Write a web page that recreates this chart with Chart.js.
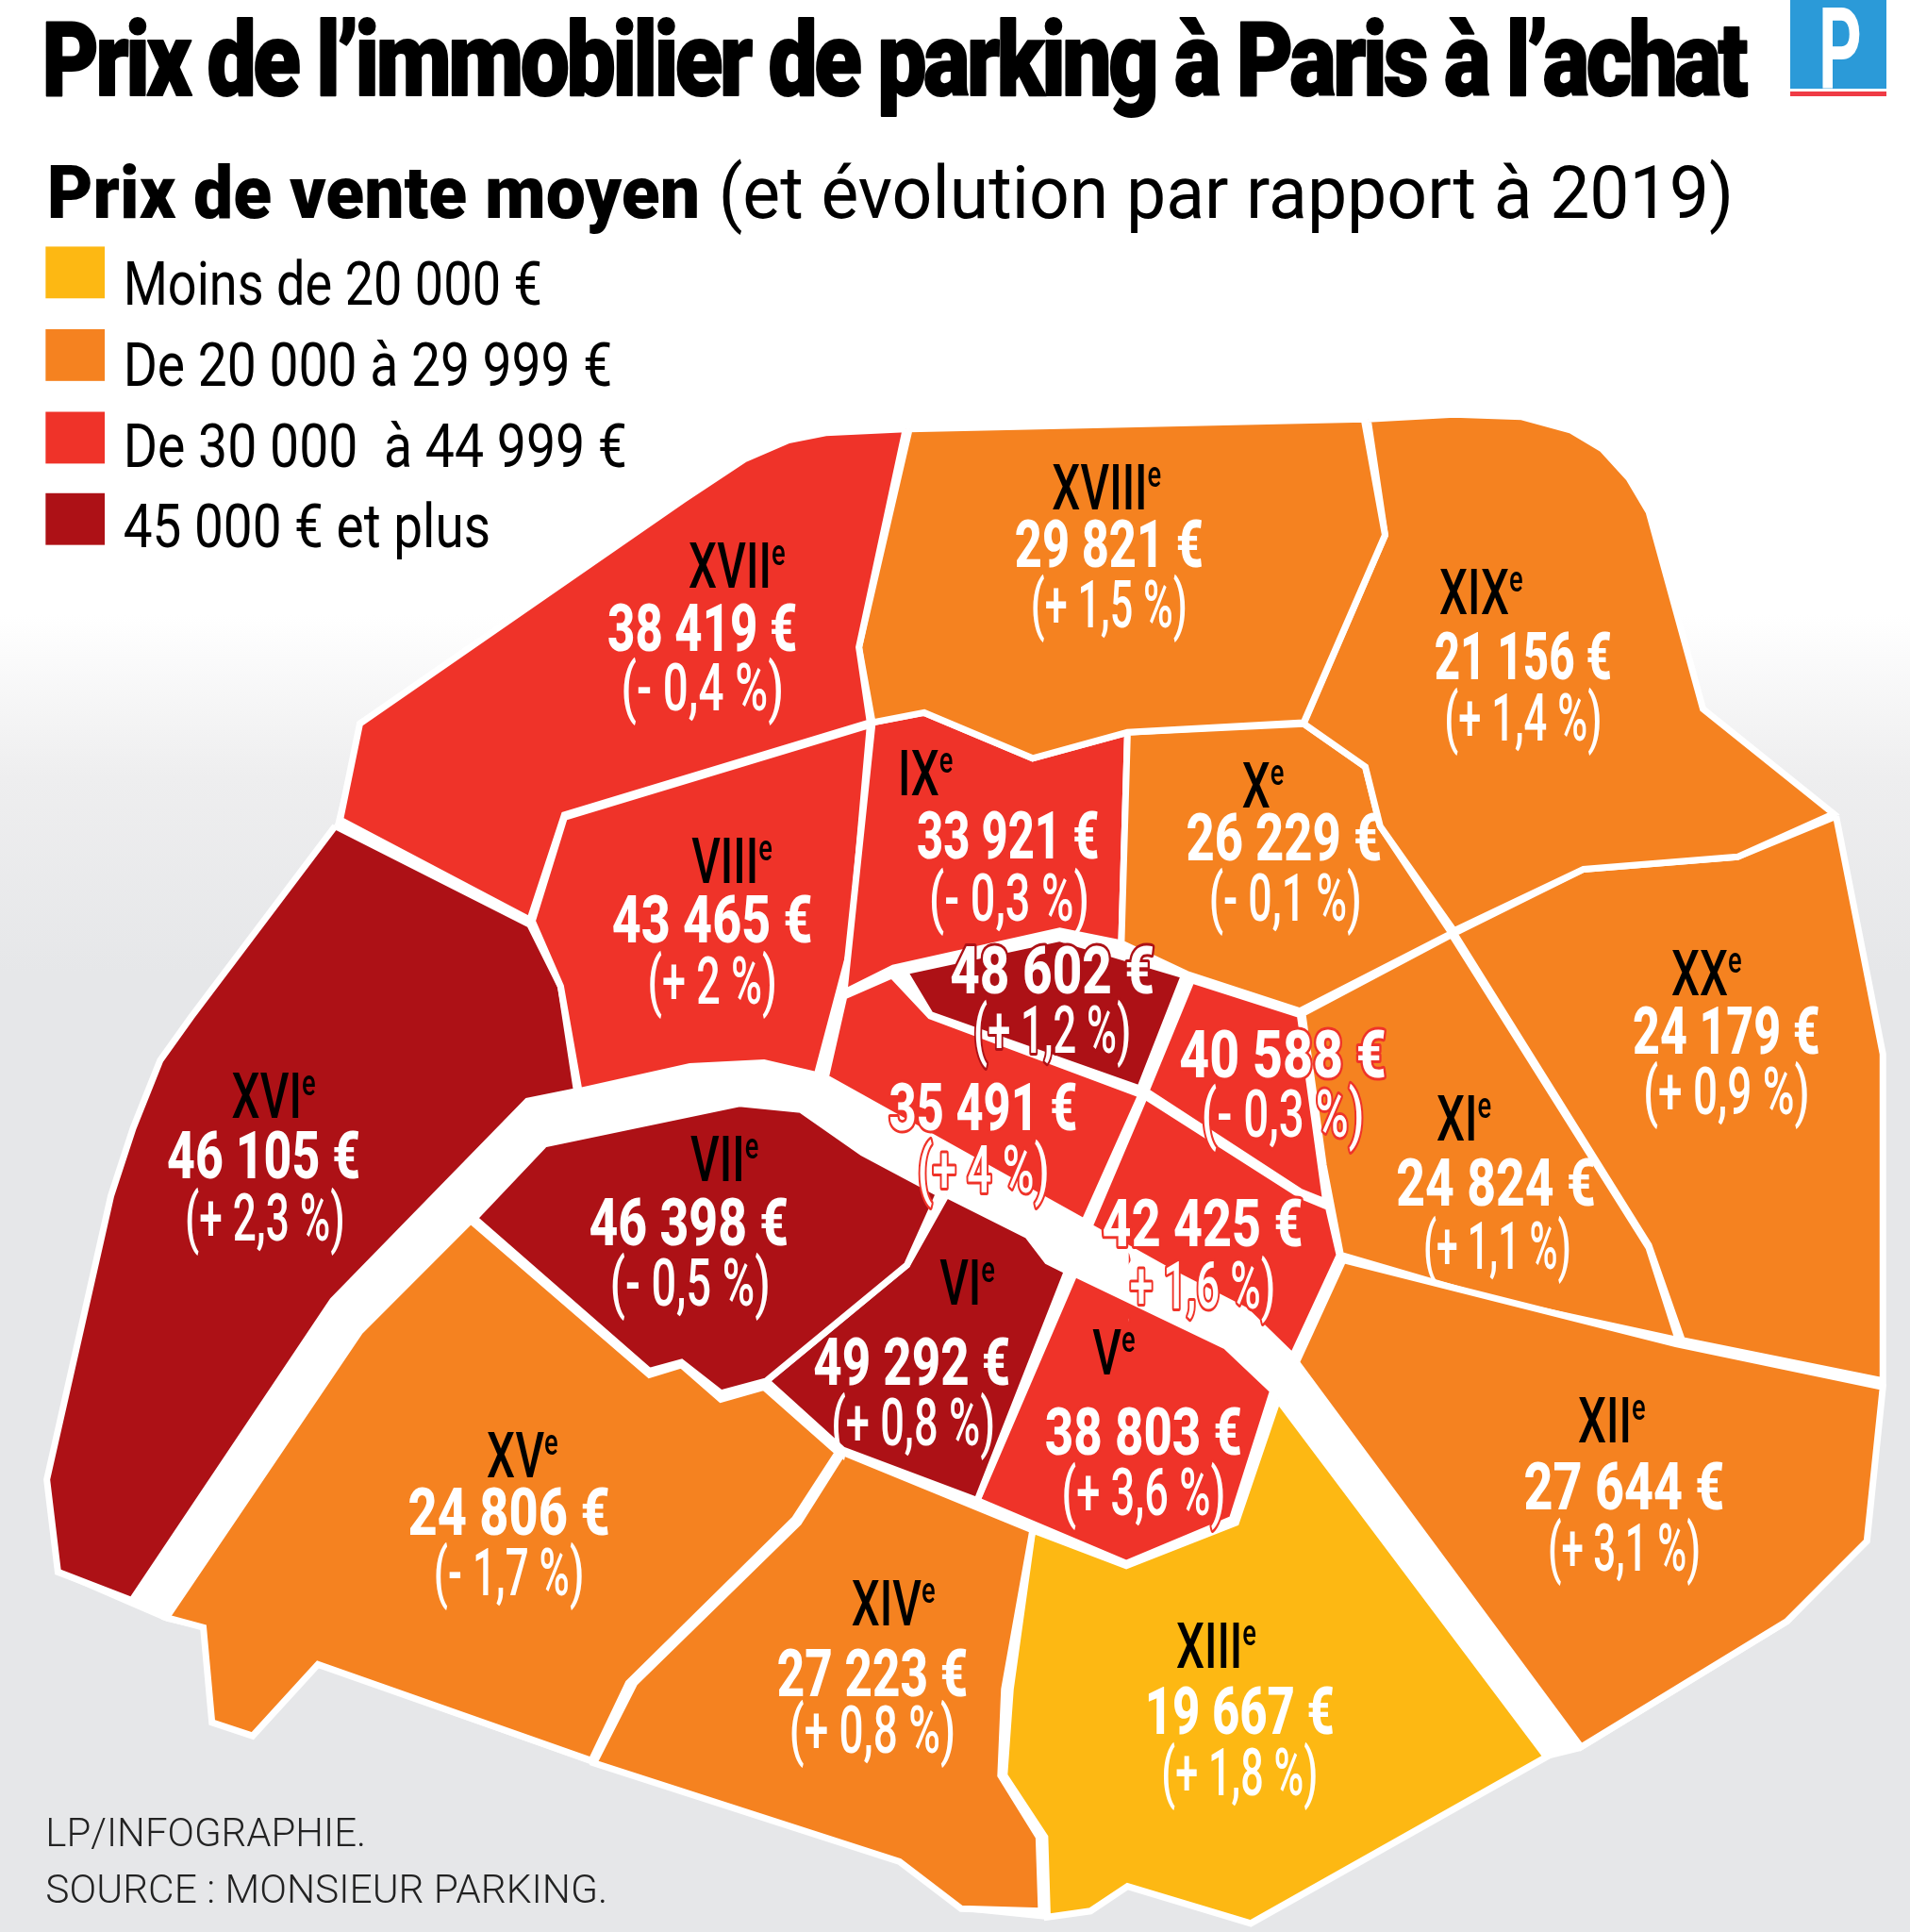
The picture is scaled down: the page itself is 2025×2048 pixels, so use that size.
<!DOCTYPE html>
<html lang="fr"><head><meta charset="utf-8"><title>Prix de l'immobilier de parking à Paris</title>
<style>html,body{margin:0;padding:0;background:#fff}canvas{display:block}</style>
<script src="https://cdn.jsdelivr.net/npm/chart.js@4/dist/chart.umd.min.js"></script></head>
<body><canvas id="c" width="2025" height="2048" style="width:2025px;height:2048px"></canvas>
<script>
const districts = ['XVII','XVIII','XIX','XX','X','IX','VIII','Ier','IIIe','IIe','IVe','XVI','VII','VI','V','XV','XIV','XIII','XII','XI'];
const romans = ['XVII','XVIII','XIX','XX','X','IX','VIII','','','','','XVI','VII','VI','V','XV','XIV','XIII','XII','XI'];
const prices = ['38 419 €','29 821 €','21 156 €','24 179 €','26 229 €','33 921 €','43 465 €','48 602 €','40 588 €','35 491 €','42 425 €','46 105 €','46 398 €','49 292 €','38 803 €','24 806 €','27 223 €','19 667 €','27 644 €','24 824 €'];
const changes = ['(- 0,4 %)','(+ 1,5 %)','(+ 1,4 %)','(+ 0,9 %)','(- 0,1 %)','(- 0,3 %)','(+ 2 %)','(+ 1,2 %)','(- 0,3 %)','(+ 4 %)','(+ 1,6 %)','(+ 2,3 %)','(- 0,5 %)','(+ 0,8 %)','(+ 3,6 %)','(- 1,7 %)','(+ 0,8 %)','(+ 1,8 %)','(+ 3,1 %)','(+ 1,1 %)'];
const classes = [2,1,1,1,1,2,2,3,2,2,2,3,3,3,2,1,1,0,1,1];
const classNames = ['Moins de 20 000 €','De 20 000 à 29 999 €','De 30 000  à 44 999 €','45 000 € et plus'];
const classColors = ['#fdb813','#f58220','#ef3329','#ad1116'];

const parisOutline = [[738,345],[1107,338],[1200,333],[1270,343],[1310,373],[1338,413],[1382,573],[1490,660],[1530,855],[1530,1122],[1517,1250],[1452,1317],[1283,1420],[1255,1427],[1015,1562],[915,1532],[885,1552],[850,1557],[780,1550],[730,1512],[482,1432],[258,1352],[205,1410],[172,1399],[165,1322],[135,1315],[107,1303],[47,1277],[38,1200],[90,970],[130,860],[272,668],[292,585],[555,403],[620,363],[660,350]];
const shapes = [
 [[735,348],[670,351],[640,357],[605,372],[555,405],[292,587],[276,665],[430,746],[458,661],[706,586],[697,525]],
 [[738,348],[1107,340],[1124,434],[1058,586],[915,594],[838,615],[750,578],[708,586],[697,525]],
 [[1110,340],[1180,336],[1235,338],[1275,349],[1300,364],[1322,388],[1338,415],[1382,575],[1488,660],[1410,695],[1285,705],[1180,755],[1120,670],[1108,622],[1058,587],[1124,434]],
 [[1490,662],[1528,855],[1528,1120],[1365,1087],[1338,1010],[1180,757],[1285,705],[1410,695]],
 [[915,594],[1058,587],[1108,622],[1120,670],[1178,757],[1055,820],[963,790],[910,765]],
 [[708,586],[750,578],[838,615],[915,594],[910,765],[860,755],[725,785],[685,805]],
 [[458,663],[706,588],[690,770],[663,872],[620,862],[560,865],[470,885],[455,800],[432,747]],
 [[734,788],[860,761],[961,791],[925,883],[755,823]],
 [[967,795],[1055,823],[1076,975],[1056,967],[930,885]],
 [[685,808],[724,791],[755,824],[926,888],[880,991],[670,874]],
 [[929,889],[1056,970],[1078,979],[1087,1018],[1049,1100],[1011,1063],[956,1035],[884,995]],
 [[272,670],[430,750],[455,800],[468,885],[428,893],[270,1055],[107,1298],[47,1275],[38,1200],[90,970],[108,915],[130,860],[155,825]],
 [[442,928],[600,895],[650,900],[700,935],[762,968],[736,1026],[622,1120],[585,1130],[553,1105],[527,1112],[385,988]],
 [[768,969],[834,1002],[850,1023],[866,1031],[793,1217],[684,1176],[622,1120],[736,1026]],
 [[872,1033],[995,1092],[1033,1128],[1000,1232],[914,1268],[793,1217]],
 [[382,990],[527,1115],[553,1107],[585,1135],[620,1125],[680,1178],[645,1232],[510,1365],[480,1428],[258,1350],[205,1408],[172,1397],[165,1320],[135,1312],[292,1080]],
 [[684,1178],[838,1241],[815,1370],[812,1440],[843,1490],[845,1550],[780,1548],[730,1510],[482,1430],[515,1365],[648,1235]],
 [[1037,1135],[1255,1425],[1015,1560],[915,1530],[885,1550],[850,1555],[848,1490],[815,1440],[820,1370],[838,1241],[914,1270],[1003,1235]],
 [[1090,1022],[1360,1090],[1528,1125],[1515,1250],[1450,1315],[1283,1417],[1052,1105]],
 [[1057,822],[1178,758],[1338,1012],[1362,1087],[1215,1055],[1088,1018],[1074,945]]
];
// label anchors in map units: [centre x, baseline]; widths in map units
const romanAt = [[598,477],[898,413],[1202,498],[1385,807],[1025,655],[751,645],[594,716],null,null,null,null,[222,907],[588,958],[785,1058],[904,1115],[424,1198],[725,1318],[987,1353],[1308,1170],[1188,925]];
const priceAt = [[570,528],[900,460],[1236,551],[1401,855],[1042,698],[818,696],[578,764],[854,806],[1041,874],[798,917],[976,1011],[214,956],[559,1010],[740,1123],[928,1180],[413,1245],[708,1376],[1006,1406],[1318,1224],[1214,978]];
const priceWide = [154,153,144,152,159,148,163,166,168,153,163,157,162,160,160,164,155,154,163,162];
const changeAt = [[570,576],[900,509],[1236,601],[1401,904],[1043,747],[819,747],[578,814],[854,854],[1041,922],[798,967],[970,1061],[215,1006],[560,1059],[741,1172],[928,1229],[413,1294],[708,1422],[1006,1456],[1318,1274],[1215,1029]];
const changeWide = [132,127,128,135,124,130,105,128,132,107,130,130,130,133,133,122,135,127,124,120];
const outline = {7:'#ad1116',8:'#ef3329',9:'#ef3329',10:'#ef3329',14:'#ef3329'};
const hiddenUpTo = {10:916};

const S = 2025/1550;
function fit(ctx, text, x, y, font, width, color, o){
  o=o||{}; ctx.save(); ctx.font = font; if(o.spacing) ctx.letterSpacing=o.spacing;
  const k = width/ctx.measureText(text).width;
  ctx.translate(o.center? x-width/2 : x, y); ctx.scale(k,1);
  ctx.textAlign='left'; ctx.textBaseline='alphabetic';
  if(o.stroke){ctx.lineWidth=o.line||5;ctx.lineJoin='round';ctx.strokeStyle=o.stroke;ctx.strokeText(text,0,0);}
  ctx.fillStyle=color; ctx.fillText(text,0,0); ctx.restore();
}
function squeezed(ctx, text, cx, y, font, k, color){
  ctx.save(); ctx.font=font; ctx.translate(cx,y); ctx.scale(k,1); ctx.textAlign='center'; ctx.textBaseline='alphabetic';
  ctx.fillStyle=color; ctx.fillText(text,0,0); ctx.restore();
}
const backdrop = {id:'backdrop',beforeDraw(ch){
  const c=ch.ctx,y=ch.scales.y,g=c.createLinearGradient(0,y.getPixelForValue(499),0,y.getPixelForValue(790));
  g.addColorStop(0,'#ffffff');g.addColorStop(0.45,'#eeeeef');g.addColorStop(1,'#e6e7e9');c.fillStyle=g;c.fillRect(0,0,ch.width,ch.height);
}};
const texts = {id:'texts',afterDraw(ch){
  const c=ch.ctx,X=v=>ch.scales.x.getPixelForValue(v),Y=v=>ch.scales.y.getPixelForValue(v);
  fit(c,'Prix de l’immobilier de parking à Paris à l’achat',X(34),Y(77),'900 110px Roboto',1382*S,'#000',{spacing:'-4px',stroke:'#000',line:2});
  fit(c,'Prix de vente moyen',X(38),Y(177),'900 78px Roboto',530*S,'#000');
  fit(c,'(et évolution par rapport à 2019)',X(583),Y(177),'400 78px Roboto',824*S,'#000');
  c.fillStyle='#2b9ad8';c.fillRect(1898,0,102,94);
  c.fillStyle='#ef3b45';c.fillRect(1898,97,102,5);
  fit(c,'P',1928,94,'700 120px Roboto',46,'#fff');
  const top=[200,267,334,400],base=[247,313,379,444],wid=[340,397,409,298];
  classNames.forEach((t,i)=>{c.fillStyle=classColors[i];c.fillRect(X(37),Y(top[i]),48*S,42*S);
    fit(c,t,X(100),Y(base[i]),'400 64px Roboto',wid[i]*S,'#000');});
  fit(c,'LP/INFOGRAPHIE.',X(37),Y(1497),'300 43px Roboto',260*S,'#222');
  fit(c,'SOURCE : MONSIEUR PARKING.',X(37),Y(1543),'300 43px Roboto',456*S,'#222');
  districts.forEach((d,i)=>{
    if(romanAt[i]){
      const f='500 66px Roboto',k=0.72;c.font=f;const w=c.measureText(romans[i]).width*k;
      c.font='500 38px Roboto';const e=c.measureText('e').width*k;
      const l=X(romanAt[i][0])-(w+e)/2,b=Y(romanAt[i][1]);
      squeezed(c,romans[i],l+w/2,b,f,k,'#000');
      squeezed(c,'e',l+w+e/2,b-24,'500 38px Roboto',k,'#000');
    }
    const o=outline[i]?{center:true,stroke:outline[i],line:6}:{center:true};
    fit(c,prices[i],X(priceAt[i][0]),Y(priceAt[i][1]),'800 70px Roboto',priceWide[i]*S,'#fff',o);
    c.save();
    if(hiddenUpTo[i]){c.beginPath();c.rect(X(hiddenUpTo[i]),0,ch.width,ch.height);c.clip();}
    fit(c,changes[i],X(changeAt[i][0]),Y(changeAt[i][1]),'500 70px Roboto',changeWide[i]*S,'#fff',o);
    c.restore();
  });
}};
const polygon=(pts,label,color,border)=>({
    label,data:[...pts,pts[0]].map(p=>({x:p[0],y:p[1]})),
    showLine:true,fill:'shape',tension:0,
    backgroundColor:color,borderColor:'#ffffff',borderWidth:border,borderJoinStyle:'miter',
    pointRadius:0,pointHoverRadius:0,clip:false});
new Chart(document.getElementById('c'),{
  type:'scatter',
  data:{datasets:[...shapes.map((pts,i)=>polygon(pts,districts[i],classColors[classes[i]],7)),polygon(parisOutline,'Paris','#ffffff',0)]},
  options:{responsive:false,animation:false,events:[],layout:{padding:0},
    plugins:{legend:{display:false},tooltip:{enabled:false},title:{display:false}},
    scales:{x:{type:'linear',min:0,max:1550,display:false},y:{type:'linear',min:0,max:1567,reverse:true,display:false}}},
  plugins:[backdrop,texts]
});
</script></body></html>
